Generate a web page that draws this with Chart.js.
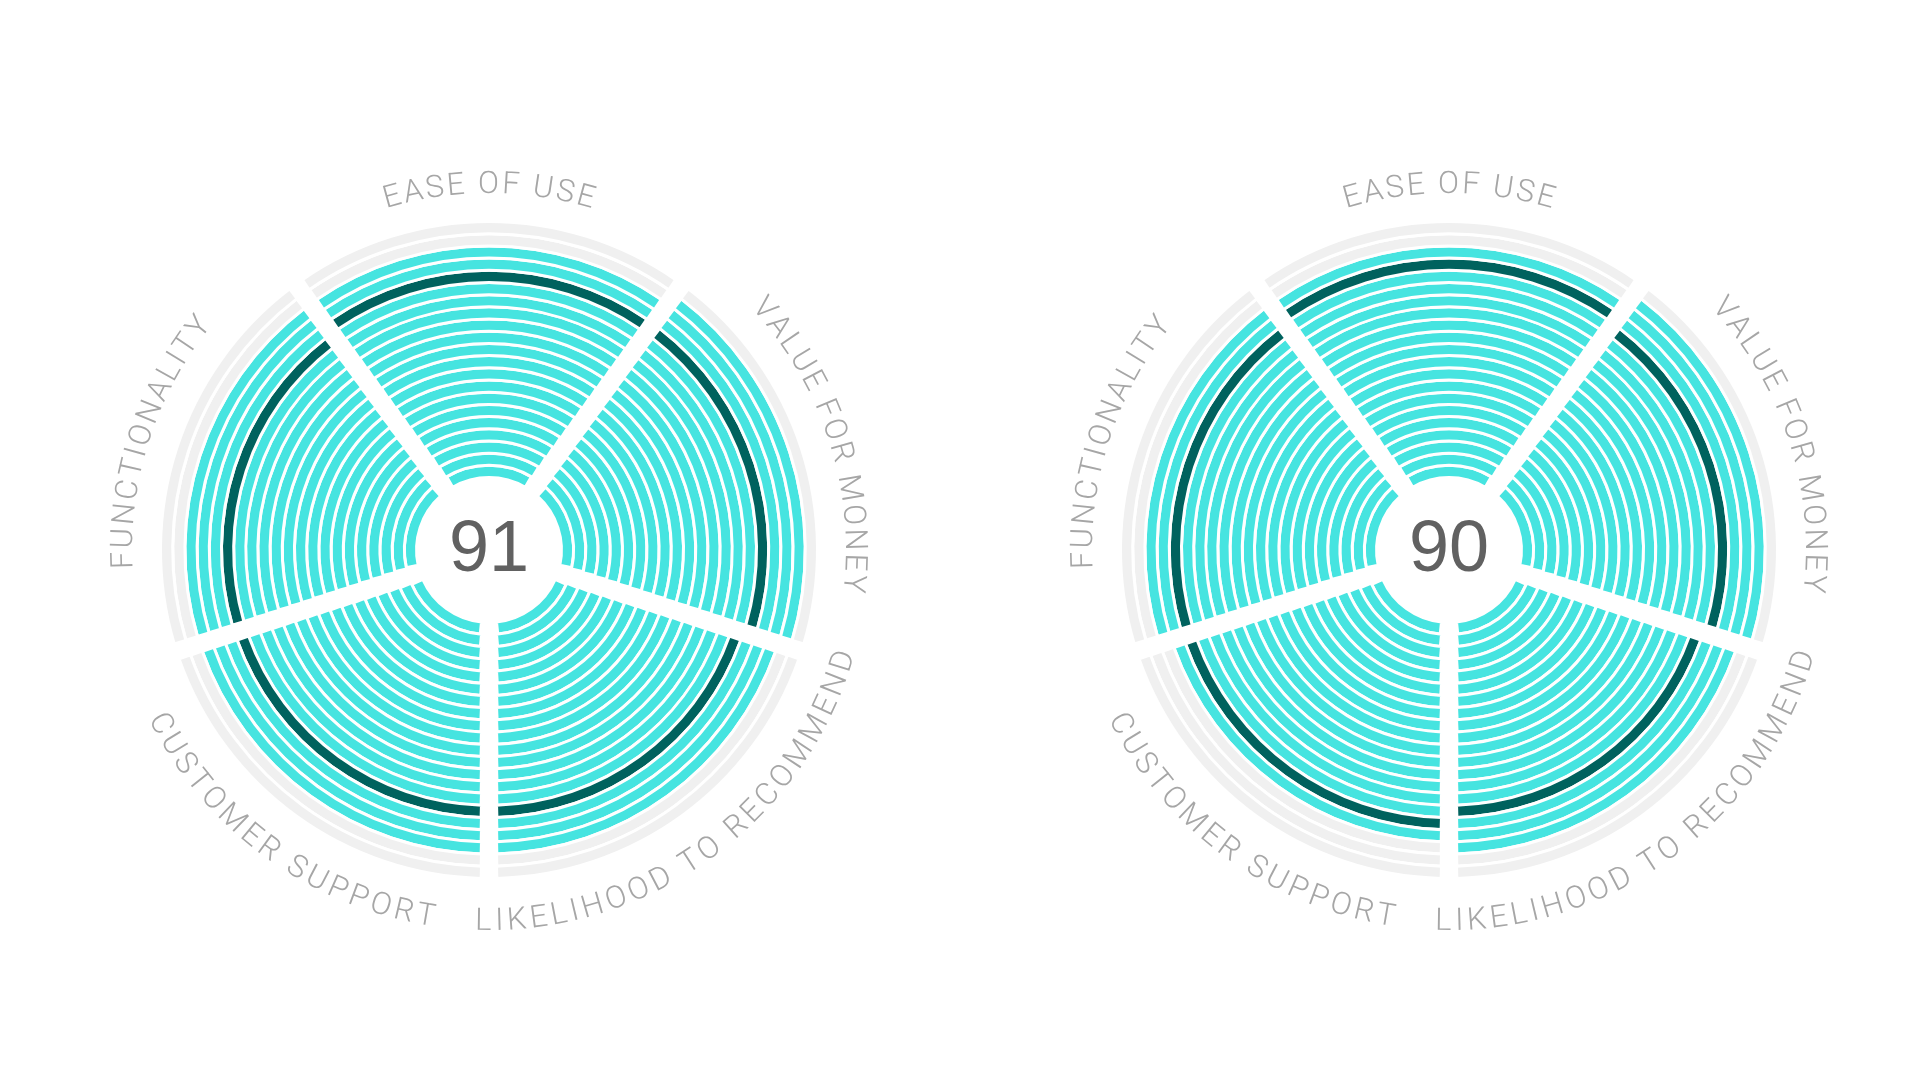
<!DOCTYPE html>
<html>
<head>
<meta charset="utf-8">
<title>Ratings</title>
<script src="https://cdn.jsdelivr.net/npm/chart.js@4.4.0/dist/chart.umd.min.js"></script>
<style>
  html, body { margin: 0; padding: 0; background: #fff; }
  #wrap { width: 1920px; height: 1080px; display: flex; }
  .cell { width: 960px; height: 1080px; position: relative; }
</style>
</head>
<body>
<div id="wrap">
  <div class="cell"><canvas id="chartA"></canvas></div>
  <div class="cell"><canvas id="chartB"></canvas></div>
</div>
<script>
// sectors, clockwise from the top
const categories = ['EASE OF USE', 'VALUE FOR MONEY', 'LIKELIHOOD TO RECOMMEND', 'CUSTOMER SUPPORT', 'FUNCTIONALITY'];
const ringLevels = 21;

// filled rings per sector and the benchmark ring (counted from the centre)
const scoresA = [19, 20, 19, 19, 19];
const benchA = [17, 17, 16, 16, 16];
const scoresB = [19, 20, 19, 18, 19];
const benchB = [18, 17, 16, 17, 17];

const totalA = 91;
const totalB = 90;

const CYAN = '#46e4e0';
const DARK = '#00625e';
const GREY = '#f0f0f0';

function buildDatasets(scores, bench) {
    const sets = [];
    for (let i = 0; i < ringLevels; i++) {
        const level = ringLevels - i; // dataset 0 is the outer ring
        sets.push({
            data: categories.map(() => 1),
            backgroundColor: categories.map((c, k) => {
                if (level === bench[k]) return DARK;
                return level <= scores[k] ? CYAN : GREY;
            }),
            borderColor: '#ffffff',
            borderWidth: 3,
            spacing: 24,
            hoverOffset: 0
        });
    }
    return sets;
}

function drawCurved(ctx, text, cx, cy, r, a, inward, gap) {
    const chars = [...text];
    const widths = chars.map(ch => ctx.measureText(ch).width);
    const total = widths.reduce((s, w) => s + w, 0) + gap * (chars.length - 1);
    const dir = inward ? -1 : 1;
    let pos = -total / 2;
    chars.forEach((ch, i) => {
        const ang = a + dir * (pos + widths[i] / 2) / r;
        ctx.save();
        ctx.translate(cx + r * Math.sin(ang), cy - r * Math.cos(ang));
        ctx.rotate(inward ? ang - Math.PI : ang);
        ctx.fillText(ch, 0, 0);
        ctx.restore();
        pos += widths[i] + gap;
    });
}

const overlayPlugin = {
    id: 'overlay',
    afterDraw(chart, args, opts) {
        const meta = chart.getDatasetMeta(0);
        const cx = meta.data[0].x;
        const cy = meta.data[0].y;
        const ctx = chart.ctx;
        ctx.save();

        // centre score
        ctx.fillStyle = '#616161';
        ctx.font = '72px "Liberation Sans", Arial, sans-serif';
        ctx.textAlign = 'center';
        ctx.textBaseline = 'middle';
        ctx.fillText(String(opts.total), cx, cy + 1);

        // curved sector labels
        ctx.fillStyle = '#a6a6a6';
        ctx.font = '300 31px Roboto, "Open Sans", sans-serif';
        ctx.textAlign = 'center';
        ctx.textBaseline = 'alphabetic';
        categories.forEach((label, k) => {
            const el = meta.data[k];
            const a = (el.startAngle + el.endAngle) / 2 + Math.PI / 2;
            const inward = Math.cos(a) < 0;
            drawCurved(ctx, label, cx, cy, inward ? 380 : 357, a, inward, inward ? 4 : 2.6);
        });
        ctx.restore();
    }
};

function makeChart(id, scores, bench, total) {
    const ctx = document.getElementById(id).getContext('2d');
    return new Chart(ctx, {
        type: 'doughnut',
        data: {
            labels: categories,
            datasets: buildDatasets(scores, bench)
        },
        options: {
            responsive: true,
            maintainAspectRatio: false,
            animation: false,
            events: [],
            rotation: -36,
            radius: 316.5,
            cutout: '19.1%',
            layout: { padding: { left: 18, top: 20 } },
            plugins: {
                legend: { display: false },
                tooltip: { enabled: false },
                overlay: { total: total }
            }
        },
        plugins: [overlayPlugin]
    });
}

makeChart('chartA', scoresA, benchA, totalA);
makeChart('chartB', scoresB, benchB, totalB);
</script>
</body>
</html>
